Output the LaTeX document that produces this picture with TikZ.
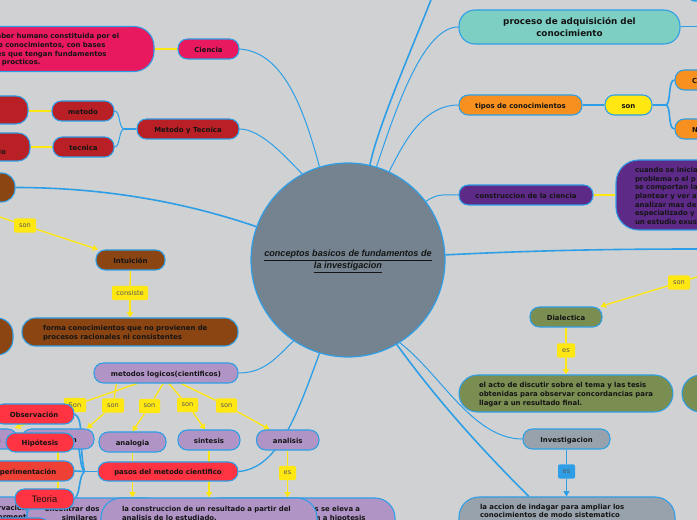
\documentclass[tikz,border=0pt]{standalone}
\usepackage{fontspec}
\setmainfont{DejaVu Sans}
\newfontfamily\hubfont{Liberation Sans}
\usetikzlibrary{arrows.meta}
\definecolor{bgc}{HTML}{D0D1D3}
\definecolor{lnk}{HTML}{2E9FE6}
\definecolor{yel}{HTML}{FFE711}
\definecolor{hubc}{HTML}{74838F}
\definecolor{pink}{HTML}{E8195F}
\definecolor{red1}{HTML}{B92025}
\definecolor{brn}{HTML}{8B4513}
\definecolor{lil}{HTML}{B094C6}
\definecolor{red2}{HTML}{FF3341}
\definecolor{red3}{HTML}{EE4035}
\definecolor{teal1}{HTML}{7CCFC2}
\definecolor{org}{HTML}{F7901E}
\definecolor{pur}{HTML}{5E2A88}
\definecolor{grn}{HTML}{7A8E52}
\definecolor{gry}{HTML}{98A2AC}
\definecolor{ink}{HTML}{141414}
\pgfdeclarelayer{links}
\pgfsetlayers{links,main}
\tikzset{
  x=0.75pt,y=-0.75pt,
  basebox/.style={draw=lnk,line width=0.8pt,inner sep=0pt,text=ink,font=\fontsize{5.2}{6.5}\selectfont\bfseries},
  tag/.style={fill=yel,rounded corners=1.5pt,inner sep=0pt,minimum height=10.8pt,text=black!65,font=\fontsize{5}{6}\selectfont},
  thin link/.style={draw=lnk,line width=0.75pt},
  mid link/.style={draw=lnk,line width=1pt},
  thick link/.style={draw=lnk,line width=1.2pt},
  yline/.style={draw=yel,line width=1pt},
  yarrow/.style={draw=yel,line width=1pt,-{Triangle[length=4pt,width=4.5pt]}},
  barrow/.style={draw=lnk,line width=1pt,-{Triangle[length=4pt,width=4.5pt]}},
}
% name, x1,y1,x2,y2, fill, radius(pt), text (centred, one line)
\newcommand{\bx}[8]{\node[basebox,fill=#6,rounded corners=#7pt,align=center,text height=4.9pt,text depth=0pt,
  minimum width={(#4-(#2))*0.75pt},minimum height={(#5-(#3))*0.75pt}]
  (#1) at ({(#2+#4)/2},{(#3+#5)/2}) {#8};}
% name, x1,y1,x2,y2, fill, radius(pt), pad(px), text (left aligned)
\newcommand{\bl}[9]{\node[basebox,fill=#6,rounded corners=#7pt,align=left,
  inner xsep={#8*0.75pt},text width={(#4-(#2)-2*#8)*0.75pt},
  minimum height={(#5-(#3))*0.75pt}]
  (#1) at ({(#2+#4)/2},{(#3+#5)/2}) {\rule{0pt}{5.4pt}#9};}
\newcommand{\tg}[5]{\node[tag,minimum width={(#4-(#2))*0.75pt}] (#1) at ({(#2+#4)/2},{#3}) {#5};}
\begin{document}
\begin{tikzpicture}
\useasboundingbox (0,0) rectangle (697,520);
\clip (0,0) rectangle (697,520);
\begin{pgfonlayer}{links}
\clip (0,0) rectangle (697,520);
\fill[bgc] (0,0) rectangle (697,520);
\end{pgfonlayer}

% hub
\node[circle,draw=lnk,line width=0.9pt,fill=hubc,minimum size=145.5pt,inner sep=0pt,align=center,
  font=\hubfont\fontsize{6.8}{9}\selectfont\bfseries\itshape,text=ink] (hub) at (348,260)
  {\rule{0pt}{7pt}\underline{conceptos basicos de fundamentos de}\\[0.2pt]\underline{la investigacion}};

% free ends
\coordinate (topoff) at (432,-3);
\coordinate (rightoff) at (700,249);
\coordinate (procoff) at (700,27);
\coordinate (leftoff) at (-6,215);
\coordinate (rightson) at (700,276);

% upper left
\bx{cien}{178}{39}{239}{59}{pink}{7}{Ciencia}
\bl{pinkbox}{-40}{26.5}{154}{71.5}{pink}{15}{21}{\hspace*{8.6pt}saber humano constituida por el\\\hspace*{9.3pt}de conocimientos, con bases\\\hspace*{12pt}es que tengan fundamentos\\\hspace*{15.7pt}procticos.}
\bx{met}{52}{101}{114}{121}{red1}{7}{metodo}
\bx{tec}{53}{137}{114}{157}{red1}{7}{tecnica}
\bx{myt}{137}{119}{239}{139}{red1}{7}{Metodo y Tecnica}
\bx{redA}{-60}{96}{28}{124}{red1}{9}{}
\bl{redB}{-60}{133}{30}{161}{red1}{9}{20}{\mbox{}\\\hspace*{29pt}lo}
\bx{brA}{-60}{173}{15}{202}{brn}{10}{}

% intuition
\tg{sonA}{14}{225.5}{36}{son}
\bx{intu}{96}{250}{165}{270}{brn}{7}{Intuición}
\tg{cons}{112}{293}{148}{consiste}
\bl{forma}{22}{318}{238}{346}{brn}{10}{21}{forma conocimientos que no provienen de\\procesos racionales ni consistentes}
\bx{brB}{-60}{318}{13}{355}{brn}{12}{}

% logic methods
\bx{logic}{94}{363}{238}{383}{lil}{7}{metodos logicos(cientificos)}
\bx{indA}{-55}{429}{17}{449}{lil}{7}{deduccion}
\bx{indB}{22}{429}{94}{449}{lil}{7}{induccion}
\bx{anal}{99}{432}{166}{452}{lil}{7}{analogia}
\bx{sint}{178}{430}{240}{450}{lil}{7}{sintesis}
\bx{anls}{256.5}{430}{319}{450}{lil}{7}{analisis}
\tg{sonB}{64}{405}{86}{Son}
\tg{sonC}{102}{405.5}{124}{son}
\tg{sonD}{139}{406}{160}{son}
\tg{sonE}{177}{405}{198}{son}
\tg{sonF}{216}{405.5}{237}{son}
\tg{esA}{279}{473}{296}{es}

\bl{obsv}{-60}{497}{27}{526}{lil}{10}{5}{\hspace*{39.75pt}\mbox{rvacion}\\\hspace*{39.75pt}\mbox{orment}}
\bl{enc}{27}{498}{165}{544}{lil}{14}{18}{encontrar dos\\\hspace*{12.7pt}similares\\\mbox{}\\\mbox{}}
\bx{redC}{-20}{518}{50}{545}{red2}{8}{}
\bl{elev}{200}{498}{395}{544}{lil}{15}{21}{\hspace*{66.7pt}es se eleva a\\\hspace*{65pt}ten a hipotesis\\\mbox{}\\\mbox{}}
\bl{cons2}{101}{498}{317}{544}{lil}{15}{21}{la construccion de un resultado a partir del\\analisis de lo estudiado.\\\mbox{}\\\mbox{}}
\bx{pas}{98}{462}{238}{481}{red2}{7}{pasos del metodo cientifico}
\bx{obs}{-6}{404}{74}{424}{red2}{7}{Observación}
\bx{hip}{6}{433}{74}{452}{red2}{7}{Hipótesis}
\bx{expe}{-27}{461}{74}{481}{red3}{7}{Experimentación}
\node[basebox,fill=red2,rounded corners=7pt,minimum width=44.25pt,minimum height=15pt,
  font=\hubfont\fontsize{7}{8}\selectfont] (teo) at (44.5,499) {Teoria};

% right column
\node[basebox,fill=teal1,rounded corners=12pt,align=center,minimum width=165.75pt,minimum height=25.5pt,
  font=\fontsize{6.6}{8.4}\selectfont\bfseries] (proc) at (569.5,27) {proceso de adquisición del\\conocimiento};
\bx{topn}{688}{-20}{720}{1}{lnk}{5}{}
\bx{tipos}{459}{95}{582}{115}{org}{7}{tipos de conocimientos}
\bx{sonY}{605}{95}{652}{115}{yel}{7}{son}
\bl{ccc}{675}{70}{760}{90}{org}{7}{17}{C}
\bl{nnn}{675}{119}{760}{139}{org}{7}{17}{N}
\bx{cons3}{459}{185}{593}{205}{pur}{7}{construccion de la ciencia}
\bl{cuando}{616}{160}{860}{230}{pur}{17}{19}{cuando se inicia\\problema o el p\\se comportan la\\plantear y ver a\\analizar mas de\\especializado y\\un estudio exus}
\tg{sonR}{668}{282.5}{690}{son}
\bx{dial}{530}{307}{602}{327}{grn}{7}{Dialectica}
\tg{esB}{557}{350.5}{575}{es}
\bl{acto}{459}{375}{673}{412}{grn}{14}{20}{el acto de discutir sobre el tema y las tesis\\\mbox{obtenidas para observar concordancias para}\\llagar a un resultado final.}
\bx{grnB}{682}{375}{800}{412}{grn}{14}{}
\bx{inv}{523}{429}{610}{449}{gry}{7}{Investigacion}
\node[tag,fill=lnk,minimum width=12.75pt] (esC) at (566.5,471.5) {es};
\bl{accion}{459}{497}{675}{540}{gry}{15}{21}{la accion de indagar para ampliar los\\conocimientos de modo sistematico\\\mbox{}\\\mbox{}}

\begin{pgfonlayer}{links}
% hub links
\draw[thin link] (cien.east) .. controls +(45,3) and +(-15,-55) .. (hub.107);
\draw[thin link] (myt.east) .. controls +(22,0) and +(-15,-15) .. (hub.118);
\draw[thick link] (brA.east) .. controls +(90,0) and +(-70,-24) .. (hub.160);
\draw[thin link] (logic.east) .. controls +(25,0) and +(-18,18) .. (hub.236);
\draw[mid link] (pas.east) .. controls +(40,-3) and +(-22,60) .. (hub.253);
\draw[thick link] (hub.77) .. controls +(8,-40) and +(-15,40) .. (topoff);
\draw[thin link] (proc.west) .. controls +(-35,0) and +(20,-60) .. (hub.73);
\draw[thin link] (tipos.west) .. controls +(-35,0) and +(15,-30) .. (hub.65.5);
\draw[thin link] (cons3.west) .. controls +(-15,0) and +(12,-8) .. (hub.37);
\draw[thick link] (hub.3) .. controls +(80,-4) and +(-100,0) .. (rightoff);
\draw[thin link] (inv.west) .. controls +(-50,0) and +(40,30) .. (hub.-58);
\draw[thick link] (hub.-60) .. controls +(40,55) and +(-50,-50) .. (accion.150);
\draw[thin link] (proc.east) -- (procoff);
% small trees
\draw[thick link] (myt.west) -- ++(-12,0) coordinate (t1);
\draw[thin link] (t1) .. controls +(-6,0) and +(6,0) .. (met.east);
\draw[thin link] (t1) .. controls +(-6,0) and +(6,0) .. (tec.east);
\draw[thick link] (tipos.east) -- (sonY.west);
\draw[thick link] (sonY.east) -- ++(13,0) coordinate (t2);
\draw[thick link] (t2) .. controls +(6,0) and +(-7,0) .. (ccc.west);
\draw[thick link] (t2) .. controls +(6,0) and +(-7,0) .. (nnn.west);
\draw[thick link] (pas.west) -- ++(-13,0) coordinate (t3);
\draw[thick link] (t3) -- (expe.east);
\draw[thick link] (t3) .. controls +(-6,-5) and +(7,0) .. (hip.east);
\draw[thick link] (t3) .. controls +(-6,-25) and +(10,5) .. (obs.east);
\draw[thick link] (t3) .. controls +(-6,5) and +(6,-5) .. (teo.east);
% yellow links
\draw[yline] (pinkbox.east) -- (cien.west);
\draw[yline] (redA.east |- met.west) -- (met.west);
\draw[yline] (redB.east |- tec.west) -- (tec.west);
\draw[yline] (cons3.east) -- (cuando.west |- cons3.east);
\draw[yline] (leftoff) -- (sonA);
\draw[yarrow] (sonA) -- (intu.162);
\draw[yline] (intu) -- (cons);
\draw[yarrow] (cons) -- (forma.north -| cons);
\draw[yline] (logic.200) -- (sonB);
\draw[yarrow] (sonB) -- (15,428);
\draw[yline] (logic.192) -- (sonC);
\draw[yarrow] (sonC) -- (indB.20);
\draw[yline] (logic.255) -- (sonD);
\draw[yarrow] (sonD) -- (anal.north);
\draw[yline] (logic.285) -- (sonE);
\draw[yarrow] (sonE) -- (sint.110);
\draw[yline] (logic.-35) -- (sonF);
\draw[yarrow] (sonF) -- (anls.150);
\draw[yline] (anal.south) -- (anal.south |- pas.north);
\draw[yarrow] (anal.south |- pas.south) -- (anal.south |- cons2.north);
\draw[yarrow] (sint.south) -- (sint.south |- cons2.north);
\draw[yline] (anls.south -| esA) -- (esA);
\draw[yarrow] (esA) -- (esA |- elev.north);
\draw[yline] (58,452) -- (58,461);
\draw[yline] (58,481) -- (58,489);
\draw[yline] (rightson) -- (sonR);
\draw[yarrow] (sonR) -- (dial.17);
\draw[yline] (dial.south -| esB) -- (esB);
\draw[yarrow] (esB) -- (acto.north -| esB);
\draw[thick link] (inv.south -| esC) -- (esC);
\draw[barrow] (esC) -- (accion.north -| esC);
\end{pgfonlayer}
\end{tikzpicture}
\end{document}
